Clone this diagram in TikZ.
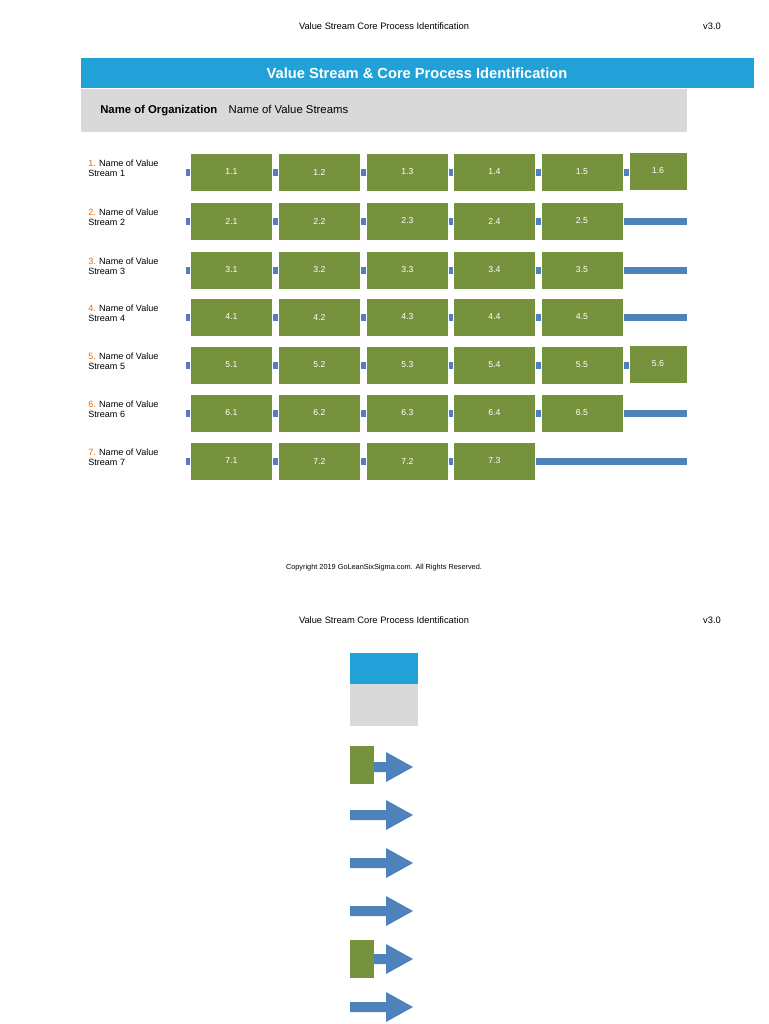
\documentclass[tikz,border=0pt]{standalone}
\usepackage{fontspec}
\setmainfont{Liberation Sans}
\definecolor{hblue}{HTML}{22A0D8}
\definecolor{hgrey}{HTML}{D9D9D9}
\definecolor{bgreen}{HTML}{76923C}
\definecolor{sblue}{HTML}{4F81BD}
\definecolor{onum}{HTML}{E46C0A}
\begin{document}
\begin{tikzpicture}[x=0.75pt,y=-0.75pt,
  pbox/.style={fill=bgreen,draw=white,line width=0.4pt,minimum width=61.5pt,minimum height=28.5pt,inner sep=0pt,text=white,font=\fontsize{6.5}{7}\selectfont},
  lbl/.style={anchor=west,align=left,font=\fontsize{6.8}{7.8}\selectfont,inner sep=0pt},
  hdr/.style={font=\fontsize{7}{8}\selectfont,inner sep=0pt}]
\useasboundingbox (0,0) rectangle (768,1024);
\fill[white] (0,0) rectangle (768,1024);
\node[hdr] (h1) at (384,26) {Value Stream Core Process Identification};
\node[hdr] (v1) at (712,26) {v3.0};
\fill[hblue] (81,58) rectangle (754,88);
\node[text=white,font=\bfseries\fontsize{11}{12}\selectfont] (title) at (417,73) {Value Stream \& Core Process Identification};
\fill[hgrey] (81,89) rectangle (687,132);
\node[anchor=west,font=\fontsize{8.5}{10}\selectfont,inner sep=0pt] (org) at (100,111) {\textbf{Name of Organization}\quad Name of Value Streams};
% rows
\foreach \r/\y/\n/\six in {1/172/5/1.6,2/221/5/,3/270/5/,4/317/5/,5/365/5/5.6,6/413/5/,7/461/4/} {
  \fill[sblue] (186,\y-3.5) rectangle (687,\y+3.5);
  \node[lbl] (l\r) at (88,\y-4) {\textcolor{onum}{\r.} Name of Value\\Stream \r};
}
\foreach \r/\y in {1/172,2/221,3/270,4/317,5/365,6/413} {
  \foreach \c/\x in {1/231.5,2/319.5,3/407.5,4/494.5,5/582} {
    \node[pbox] (b\r\c) at (\x,\y) {\r.\c};
  }
}
\node[pbox,minimum width=43.5pt] (b16) at (658,171) {1.6};
\node[pbox,minimum width=43.5pt] (b56) at (658,364) {5.6};
\node[pbox] (b71) at (231.5,461) {7.1};
\node[pbox] (b72) at (319.5,461) {7.2};
\node[pbox] (b73) at (407.5,461) {7.2};
\node[pbox] (b74) at (494.5,461) {7.3};
\node[font=\fontsize{5.5}{6}\selectfont,inner sep=0pt] (copy) at (384,568) {Copyright 2019 GoLeanSixSigma.com. All Rights Reserved.};
\node[hdr] (h2) at (384,620) {Value Stream Core Process Identification};
\node[hdr] (v2) at (712,620) {v3.0};
\fill[hblue] (350,653) rectangle (418,684);
\fill[hgrey] (350,684) rectangle (418,726);
\foreach \y in {767,815,863,911,959,1007} {
  \fill[sblue] (350,\y-5) -- (386,\y-5) -- (386,\y-15) -- (413,\y) -- (386,\y+15) -- (386,\y+5) -- (350,\y+5) -- cycle;
}
\fill[bgreen] (350,746) rectangle (374,784);
\fill[bgreen] (350,940) rectangle (374,978);
\end{tikzpicture}
\end{document}
